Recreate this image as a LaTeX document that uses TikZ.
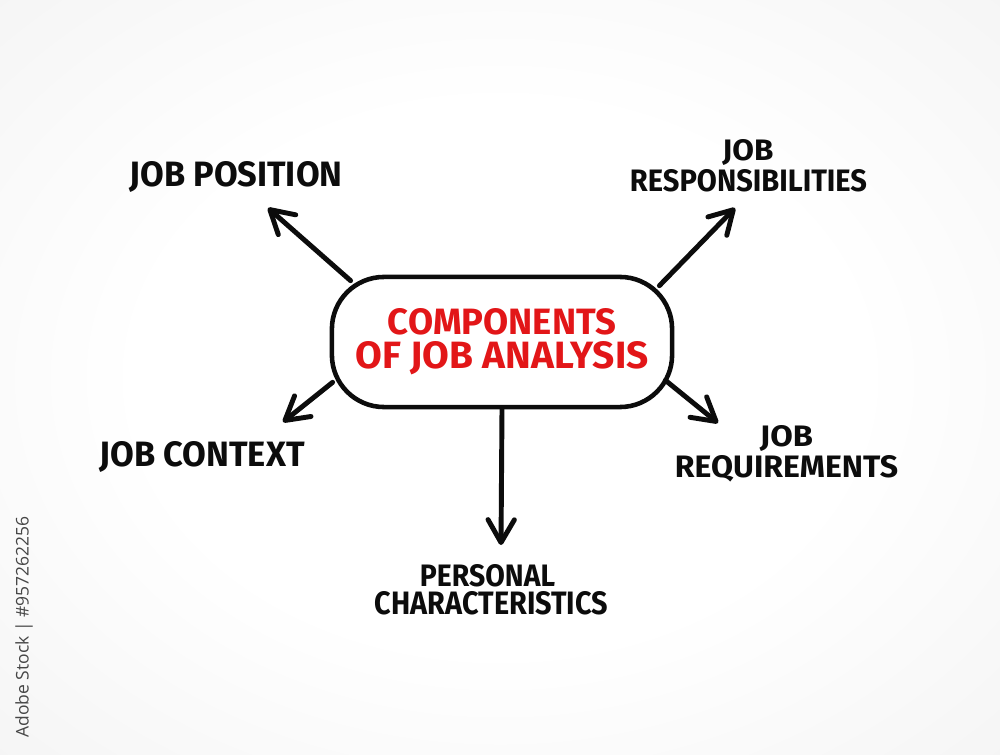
\documentclass[tikz,border=0pt]{standalone}
\usepackage{fontspec}
\setmainfont{Fira Sans}
\newfontfamily\wmfont{Open Sans}
\usetikzlibrary{arrows.meta}
\definecolor{titlered}{RGB}{226,22,24}
\definecolor{inkblack}{RGB}{12,12,12}
\definecolor{wmgray}{RGB}{70,70,70}
\newcommand{\fitline}[3]{\resizebox{#1cm}{#2cm}{\bfseries #3}}
\pgfdeclareradialshading{bgshade}{\pgfpoint{0bp}{0bp}}{color(0bp)=(white); color(18bp)=(white); color(50bp)=(black!7); color(71bp)=(black!12)}
\begin{document}
\begin{tikzpicture}[x=0.01cm,y=-0.01cm,
  lbl/.style={inner sep=0pt, text=inkblack},
  arr/.style={line width=1.4pt, draw=inkblack, line cap=round, -{Straight Barb[round,length=6.5pt,width=7.5pt]}},
  corebox/.style={draw=inkblack, line width=1.3pt, rounded corners=0.52cm, minimum width=3.4cm, minimum height=1.3cm, inner sep=0pt, align=center, text=titlered, font=\fontsize{8pt}{9.7pt}\selectfont}]
\useasboundingbox (0,0) rectangle (1000,755);
\shade[shading=bgshade] (0,0) rectangle (1000,755);

% side credit
\node[rotate=90, inner sep=0pt, text=wmgray, font=\wmfont] (stock) at (24,627) {\resizebox{2.21cm}{!}{Adobe Stock | \#957262256}};

% central box
\node[corebox] (core) at (502,342) {\fitline{2.28}{0.26}{COMPONENTS}\\\fitline{2.93}{0.27}{OF JOB ANALYSIS}};

% labels
\node[lbl] (pos) at (236,177) {\fitline{2.13}{0.25}{JOB POSITION}};
\node[lbl] (resp1) at (748,152.5) {\fitline{0.51}{0.21}{JOB}};
\node[lbl] (resp2) at (748.5,181) {\fitline{2.37}{0.22}{RESPONSIBILITIES}};
\node[lbl] (ctx) at (202,457) {\fitline{2.05}{0.25}{JOB CONTEXT}};
\node[lbl] (req1) at (786.5,438) {\fitline{0.53}{0.21}{JOB}};
\node[lbl] (req2) at (786.5,469) {\fitline{2.23}{0.22}{REQUIREMENTS}};
\node[lbl] (pers1) at (487.5,576) {\fitline{1.35}{0.22}{PERSONAL}};
\node[lbl] (pers2) at (491.5,603) {\fitline{2.33}{0.23}{CHARACTERISTICS}};

% arrow tips
\coordinate (tpos) at (268,208);
\coordinate (tresp) at (735,208);
\coordinate (tctx) at (283,422);
\coordinate (treq) at (718,423);
\coordinate (tpers) at (501,545);

% arrows
\draw[arr] ([shift={(21,6)}]core.north west) -- (tpos);
\draw[arr] ([shift={(-15,11)}]core.north east) -- (tresp);
\draw[arr] ([shift={(3,-27)}]core.south west) -- (tctx);
\draw[arr] ([shift={(-9,-29)}]core.south east) -- (treq);
\draw[arr] (core.south) -- (tpers);
\end{tikzpicture}
\end{document}
